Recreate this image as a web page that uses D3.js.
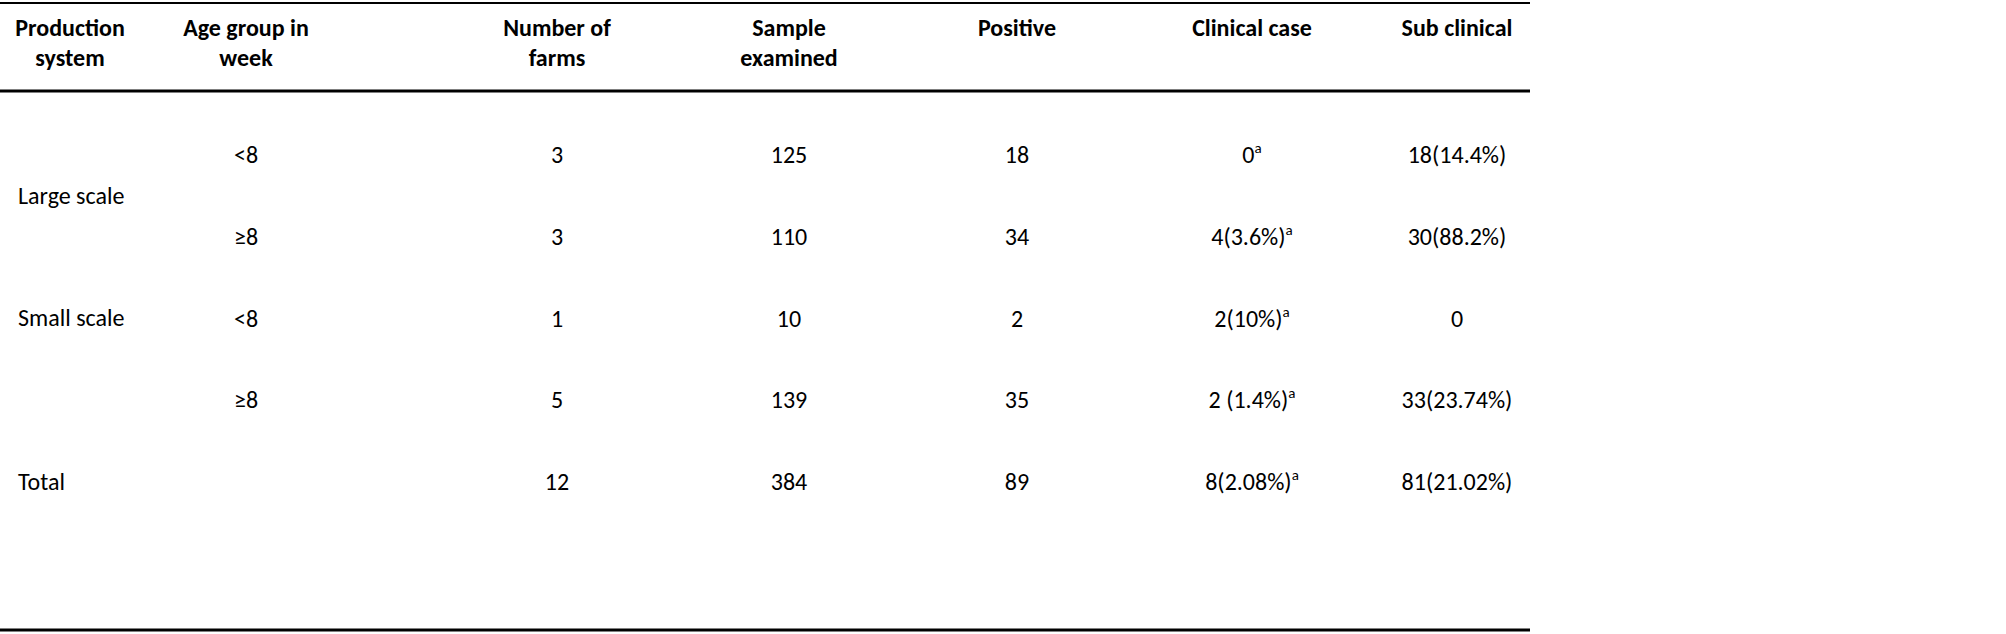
<!DOCTYPE html>
<html><head><meta charset="utf-8">
<script src="https://cdn.jsdelivr.net/npm/d3@7"></script>
<style>body{margin:0;background:#fff}text{font-family:Carlito,"Liberation Sans",Arial,sans-serif;font-size:24px;fill:#000}</style>
</head><body><div id="chart"></div>
<script>
// Table data
const headers = [["Production","system"],["Age group in","week"],["Number of","farms"],["Sample","examined"],["Positive"],["Clinical case"],["Sub clinical"]];
const systems = ["Large scale","Small scale","Total"];
const ages = ["<8","≥8","<8","≥8",""];
const farms = ["3","3","1","5","12"];
const samples = ["125","110","10","139","384"];
const positive = ["18","34","2","35","89"];
const clinical = ["0","4(3.6%)","2(10%)","2 (1.4%)","8(2.08%)"];
const subclinical = ["18(14.4%)","30(88.2%)","0","33(23.74%)","81(21.02%)"];

const width = 2006, height = 634;
const svg = d3.select("#chart").append("svg").attr("width", width).attr("height", height);

const colX = [70, 246, 557, 789, 1017, 1252, 1457];
const y = d3.scalePoint().domain(d3.range(5)).range([155, 482]);

// rules
svg.append("line").attr("x1", 0).attr("x2", 1530).attr("y1", 3).attr("y2", 3).attr("stroke", "#000").attr("stroke-width", 2);
svg.append("line").attr("x1", 0).attr("x2", 1530).attr("y1", 91).attr("y2", 91).attr("stroke", "#000").attr("stroke-width", 3);
svg.append("line").attr("x1", 0).attr("x2", 1530).attr("y1", 630).attr("y2", 630).attr("stroke", "#000").attr("stroke-width", 3);

// header
headers.forEach((h, i) => {
  h.forEach((line, j) => {
    svg.append("text").attr("x", colX[i]).attr("y", 36 + j * 30)
      .attr("text-anchor", "middle").attr("font-weight", "bold").text(line);
  });
});

// system labels
const sysY = [196, 318, 482];
systems.forEach((s, i) => {
  svg.append("text").attr("x", 18).attr("y", sysY[i] + 8).text(s);
});

const cols = [ages, farms, samples, positive, clinical, subclinical];
cols.forEach((col, ci) => {
  col.forEach((v, ri) => {
    const t = svg.append("text").attr("x", colX[ci + 1]).attr("y", y(ri) + 8).attr("text-anchor", "middle");
    t.append("tspan").text(v);
    if (ci === 4) t.append("tspan").attr("dy", -10).attr("font-size", "15px").text("a");
  });
});
</script></body></html>
